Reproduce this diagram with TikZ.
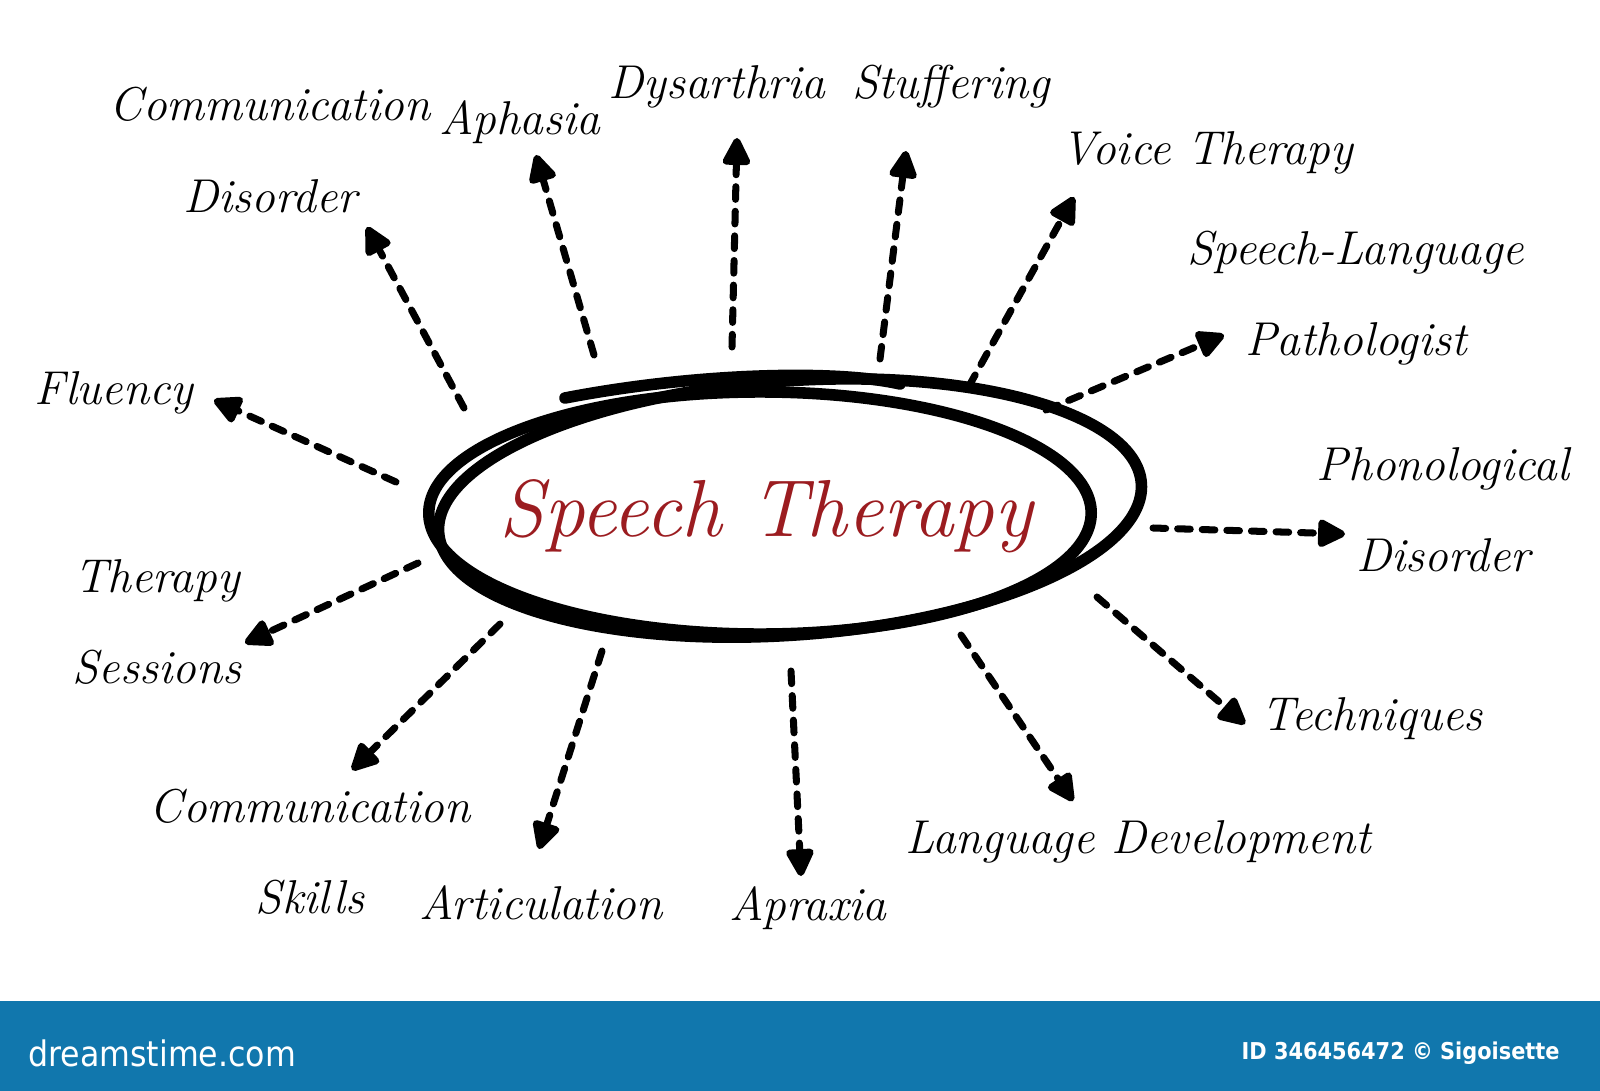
\documentclass[tikz,border=0pt]{standalone}
\usepackage{fontspec}
\usetikzlibrary{arrows.meta}
\newfontfamily\barfont{DejaVu Sans Condensed}
\definecolor{stred}{HTML}{9B1C20}
\definecolor{barblue}{HTML}{1177AD}

\begin{document}
\begin{tikzpicture}[x=0.01cm,y=-0.01cm,
    lbl/.style={align=center,font=\fontsize{13.5}{26}\selectfont\itshape},
    arr/.style={line width=2pt,dash pattern=on 3.6pt off 3.4pt,line cap=round,
      -{Triangle[length=9pt,width=8.5pt,round]}},
    ring/.style={line width=3.3pt}]
  \useasboundingbox (0,0) rectangle (1600,1091);
  % centre
  \node[font=\fontsize{23}{26}\selectfont\itshape,text=stred] (st) at (766,516) {Speech Therapy};
  \draw[ring] (760,513) ellipse [x radius=3.31cm,y radius=1.21cm];
  \draw[ring,rotate around={4:(790,508)}] (790,508) ellipse [x radius=3.52cm,y radius=1.27cm];
  \draw[ring,line cap=round] (565,398) .. controls (700,372) and (840,370) .. (900,384);
  % labels
  \node[lbl] (cd) at (270,150) {Communication\\Disorder};
  \node[lbl] (aph) at (520,122) {Aphasia};
  \node[lbl] (dys) at (717,87) {Dysarthria};
  \node[lbl] (stu) at (951,87) {Stuffering};
  \node[lbl] (vt) at (1207,153) {Voice Therapy};
  \node[lbl] (slp) at (1356,298) {Speech-Language\\Pathologist};
  \node[lbl] (pd) at (1443,510) {Phonological\\Disorder};
  \node[lbl] (tec) at (1372,719) {Techniques};
  \node[lbl] (ld) at (1138,842) {Language Development};
  \node[lbl] (apr) at (808,908) {Apraxia};
  \node[lbl] (art) at (541,903) {Articulation};
  \node[lbl] (cs) at (310,852) {Communication\\Skills};
  \node[lbl] (ts) at (157,622) {Therapy\\Sessions};
  \node[lbl] (flu) at (114,393) {Fluency};
  % arrows
  \foreach \i/\tx/\ty/\hx/\hy in {1/464/408/367/227, 2/594/355/536/155,
      3/732/347/737/138, 4/880/359/906/151, 5/969/386/1074/197,
      6/1046/410/1224/335, 7/1153/528/1345/534, 8/1097/597/1245/724,
      9/961/635/1073/801, 10/791/671/801/876, 11/602/651/539/849,
      12/500/624/352/770, 13/418/563/245/643, 14/396/482/214/400} {
    \coordinate (t\i) at (\tx,\ty);
    \coordinate (h\i) at (\hx,\hy);
    \draw[arr] (t\i) -- (h\i);
  }
  % footer
  \fill[barblue] (0,1001) rectangle (1600,1091);
  \node[text=white,font=\barfont\fontsize{10}{12}\selectfont,anchor=west] (logo) at (16,1053) {dreamstime.com};
  \node[text=white,font=\barfont\bfseries\fontsize{6.6}{8}\selectfont,anchor=east] (id) at (1572,1053) {ID 346456472 © Sigoisette};
\end{tikzpicture}
\end{document}
